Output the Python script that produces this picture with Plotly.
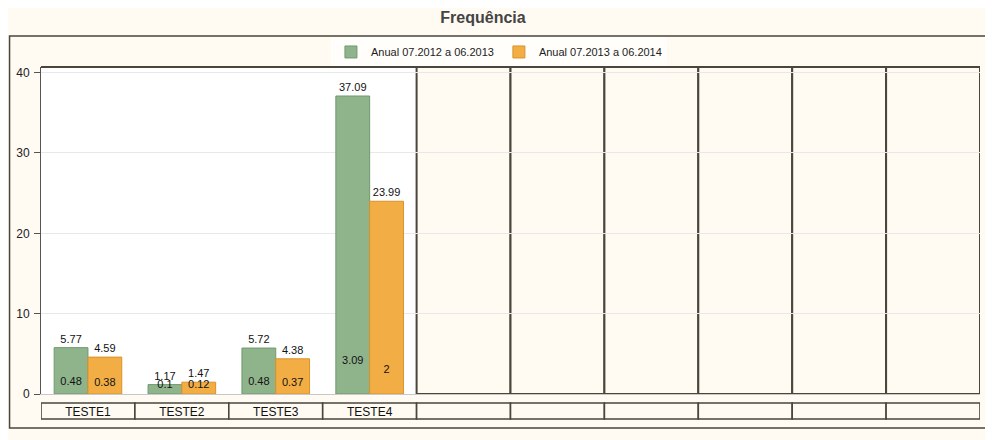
import plotly.graph_objects as go

# ---- data ----
categories = ["TESTE1", "TESTE2", "TESTE3", "TESTE4"]
empty_slots = ["slot5", "slot6", "slot7", "slot8", "slot9", "slot10"]
series_names = ["Anual 07.2012 a 06.2013", "Anual 07.2013 a 06.2014"]
values_2013 = [5.77, 1.17, 5.72, 37.09]
values_2014 = [4.59, 1.47, 4.38, 23.99]
inner_2013 = [0.48, 0.1, 0.48, 3.09]
inner_2014 = [0.38, 0.12, 0.37, 2]
y_ticks = [0, 10, 20, 30, 40]

slots = categories + empty_slots
slot_labels = categories + [""] * len(empty_slots)

CREAM = "#fffaf2"
DARK = "#4a463c"
GREEN = "#8fb48c"
GREEN_LINE = "#6f9a6e"
ORANGE = "#f2ae44"
ORANGE_LINE = "#d9922a"
FONT = "Arial, Liberation Sans, sans-serif"

fig = go.Figure()
fig.add_trace(go.Bar(x=categories, y=values_2013, name=series_names[0], offsetgroup="a",
                     marker=dict(color=GREEN, line=dict(color=GREEN_LINE, width=1)),
                     text=[f"{v:g}" for v in values_2013], textposition="outside",
                     textfont=dict(size=11, color="#111", family=FONT),
                     constraintext="none", cliponaxis=False))
fig.add_trace(go.Bar(x=categories, y=values_2014, name=series_names[1], offsetgroup="b",
                     marker=dict(color=ORANGE, line=dict(color=ORANGE_LINE, width=1)),
                     text=[f"{v:g}" for v in values_2014], textposition="outside",
                     textfont=dict(size=11, color="#111", family=FONT),
                     constraintext="none", cliponaxis=False))
fig.add_trace(go.Bar(x=categories, y=inner_2013, offsetgroup="a", showlegend=False,
                     marker=dict(color="rgba(0,0,0,0)", line=dict(width=0)),
                     text=[f"{v:g}" for v in inner_2013], textposition="outside",
                     textfont=dict(size=11, color="#111", family=FONT),
                     constraintext="none", cliponaxis=False, hoverinfo="skip"))
fig.add_trace(go.Bar(x=categories, y=inner_2014, offsetgroup="b", showlegend=False,
                     marker=dict(color="rgba(0,0,0,0)", line=dict(width=0)),
                     text=[f"{v:g}" for v in inner_2014], textposition="outside",
                     textfont=dict(size=11, color="#111", family=FONT),
                     constraintext="none", cliponaxis=False, hoverinfo="skip"))

shapes = []
# white background for the used categories
shapes.append(dict(type="rect", xref="x", yref="paper", x0=-0.5, x1=len(categories) - 0.5,
                   y0=0, y1=1, fillcolor="white", line=dict(width=0), layer="below"))
# empty slots
for i in range(len(categories), len(slots)):
    shapes.append(dict(type="rect", xref="x", yref="paper", x0=i - 0.5, x1=i + 0.5,
                       y0=0, y1=1, fillcolor=CREAM, line=dict(color=DARK, width=2), layer="between"))
# top border of plot area
shapes.append(dict(type="line", xref="paper", yref="paper", x0=0, x1=1, y0=1, y1=1,
                   line=dict(color=DARK, width=2)))
# category label boxes
for i in range(len(slots)):
    shapes.append(dict(type="rect", xref="x", yref="paper", x0=i - 0.5, x1=i + 0.5,
                       y0=-0.0275, y1=-0.0765, fillcolor=CREAM,
                       line=dict(color=DARK, width=1.6), layer="below"))
# outer frame
shapes.append(dict(type="rect", xref="paper", yref="paper", x0=-0.0335, x1=1.0075,
                   y0=-0.104, y1=1.0948, line=dict(color=DARK, width=1.5), layer="below"))
# light right edge
shapes.append(dict(type="line", xref="paper", yref="paper", x0=1.0095, x1=1.0095,
                   y0=-0.15, y1=1.21, line=dict(color="#c8c8c8", width=2)))

fig.update_layout(
    width=985, height=432,
    margin=dict(l=33, r=13, t=59, b=46),
    paper_bgcolor=CREAM, plot_bgcolor=CREAM,
    barmode="group", bargap=0.28, bargroupgap=0,
    font=dict(family=FONT, color="#222"),
    title=dict(text="<b>Frequência</b>", x=475 / 985, xref="container", xanchor="center",
               y=1 - 9 / 432, yref="container", yanchor="middle",
               font=dict(size=16, color="#444", family=FONT)),
    legend=dict(orientation="h", x=0.4877, xanchor="center", y=1.046, yanchor="middle",
                bgcolor="#fffefb", font=dict(size=11, color="#222", family=FONT),
                itemwidth=30, traceorder="normal"),
    shapes=shapes,
    showlegend=True,
)
fig.update_xaxes(type="category", categoryorder="array", categoryarray=slots,
                 tickvals=slots, ticktext=slot_labels, range=[-0.5, len(slots) - 0.5],
                 showgrid=False, zeroline=False, showline=True, linecolor="#c8c8c8", linewidth=1,
                 ticks="", ticklabelstandoff=7, automargin=False,
                 tickfont=dict(size=12, color="#111", family=FONT), fixedrange=True)
fig.update_yaxes(range=[0, 40.7], tickvals=y_ticks, showgrid=True, gridcolor="#e8e8e8",
                 zeroline=False, showline=True, linecolor="#555", linewidth=1,
                 ticks="outside", ticklen=6, tickcolor="#555", ticklabelstandoff=2,
                 automargin=False,
                 tickfont=dict(size=12, color="#222", family=FONT), fixedrange=True)

fig.write_html("out.html")
